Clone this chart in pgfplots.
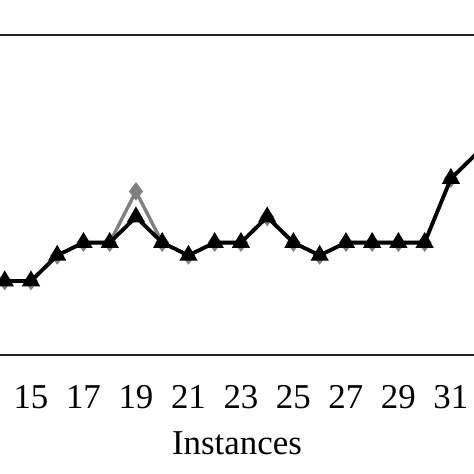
\documentclass[border=0pt]{standalone}
\usepackage{fontspec}
\setmainfont{Liberation Serif}
\usepackage{pgfplots}
\pgfplotsset{compat=1.18}
\begin{document}
\begin{tikzpicture}
\useasboundingbox (0,-119bp) rectangle (474bp,355bp);
\clip (0,-119bp) rectangle (474bp,355bp);
\begin{axis}[at={(0,0)}, anchor=south west, scale only axis,
  width=474bp, height=320bp,
  xmin=13.82, xmax=31.88, ymin=0.22, ymax=25.22,
  axis x line=box, axis y line=none,
  axis line style={line width=1.8bp, black!85},
  xtick={15,17,...,31}, ytick=\empty,
  major tick length=0pt,
  /pgf/number format/assume math mode=true,
  ticklabel style={font=\fontsize{35}{40}\selectfont},
  xticklabel style={yshift=-27bp},
  xlabel={Instances},
  xlabel style={font=\fontsize{35}{40}\selectfont, yshift=-16bp},
  clip marker paths=true,
]
\addplot[color=gray, line width=3.4bp, mark=diamond*, mark size=6.5bp, mark options={fill=gray}]
  coordinates {(14,6) (15,6) (16,8) (17,9) (18,9) (19,13) (20,9) (21,8) (22,9) (23,9) (24,11) (25,9) (26,8) (27,9) (28,9) (29,9) (30,9) (31,14) (32,16)};
\addplot[color=black, line width=3.8bp, mark=triangle*, mark size=6.8bp, mark options={fill=black}]
  coordinates {(14,6) (15,6) (16,8) (17,9) (18,9) (19,11) (20,9) (21,8) (22,9) (23,9) (24,11) (25,9) (26,8) (27,9) (28,9) (29,9) (30,9) (31,14) (32,16)};
\end{axis}
\end{tikzpicture}
\end{document}
